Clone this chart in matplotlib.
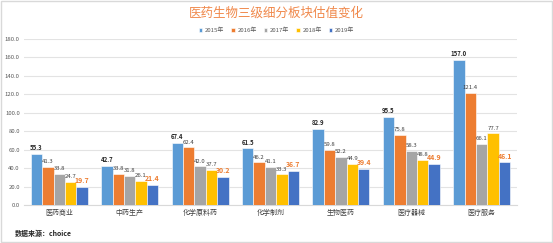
import matplotlib
matplotlib.use("Agg")
import matplotlib.pyplot as plt
import numpy as np
from matplotlib.patches import Rectangle

plt.rcParams['font.family'] = ['Noto Sans CJK SC', 'DejaVu Sans']

categories = ["医药商业", "中药生产", "化学原料药", "化学制剂", "生物医药", "医疗器械", "医疗服务"]
years = ["2015年", "2016年", "2017年", "2018年", "2019年"]
v2015 = [55.3, 42.7, 67.4, 61.5, 82.9, 95.5, 157.0]
v2016 = [41.3, 33.8, 62.4, 46.2, 59.8, 75.8, 121.4]
v2017 = [33.8, 31.8, 42.0, 41.1, 52.2, 58.3, 66.1]
v2018 = [24.7, 26.1, 37.7, 33.3, 44.9, 48.8, 77.7]
v2019 = [19.7, 21.4, 30.2, 36.7, 39.4, 44.9, 46.1]
yticks = [0, 20, 40, 60, 80, 100, 120, 140, 160, 180]
series = [v2015, v2016, v2017, v2018, v2019]
colors = ["#5B9BD5", "#ED7D31", "#A5A5A5", "#FFC000", "#4472C4"]

fig = plt.figure(figsize=(5.53, 2.43), dpi=100)
fig.patches.append(Rectangle((0.002, 0.004), 0.996, 0.992, transform=fig.transFigure,
                             fill=False, edgecolor="#D9D9D9", linewidth=1.0))
ax = fig.add_axes([24/553, 1-205/243, (517-24)/553, (205-39)/243])

x = np.arange(len(categories))
n = len(series)
group = 0.81
w = group / n
for i, (vals, c, yr) in enumerate(zip(series, colors, years)):
    pos = x - group/2 + w*(i+0.5)
    ax.bar(pos, vals, width=w, color=c, edgecolor="white", linewidth=0.4, label=yr, zorder=3)
    for p, v in zip(pos, vals):
        if i == 0:
            ax.text(p, v + 3, f"{v:.1f}", ha="center", va="bottom", fontsize=4.3,
                    fontweight="bold", color="#262626", zorder=4)
        elif i in (1, 2, 3):
            ax.text(p, v + 3, f"{v:.1f}", ha="center", va="bottom", fontsize=4.3,
                    color="#404040", zorder=4)
        else:
            ax.text(p, v + 3, f"{v:.1f}", ha="center", va="bottom", fontsize=5,
                    fontweight="bold", color="#ED7D31", zorder=4)

ax.set_xlim(-0.5, len(categories) - 0.5)
ax.set_ylim(0, 180)
ax.set_yticks(yticks)
ax.set_yticklabels([f"{t:.1f}" for t in yticks], fontsize=4.3, color="#595959")
ax.set_xticks(x)
ax.set_xticklabels(categories, fontsize=5, color="#404040")
ax.tick_params(axis="both", length=0, pad=3)
ax.grid(axis="y", color="#E3E3E3", linewidth=0.8, zorder=0)
for s in ["top", "right", "left"]:
    ax.spines[s].set_visible(False)
ax.spines["bottom"].set_color("#D9D9D9")
ax.spines["bottom"].set_linewidth(0.8)

fig.text(0.5, 1-13/243, "医药生物三级细分板块估值变化", ha="center", va="center",
         fontsize=9, fontweight="medium", color="#F0884A")
leg = fig.legend(loc="center", bbox_to_anchor=(0.5, 1-30/243), ncol=5, frameon=False,
                 fontsize=4.3, handlelength=0.6, handleheight=0.6, columnspacing=1.2,
                 handletextpad=0.4, labelcolor="#595959")
fig.text(15/553, 1-233/243, "数据来源：choice", ha="left", va="center",
         fontsize=5, fontweight="bold", color="#262626")

fig.savefig("out.png", dpi=100)
